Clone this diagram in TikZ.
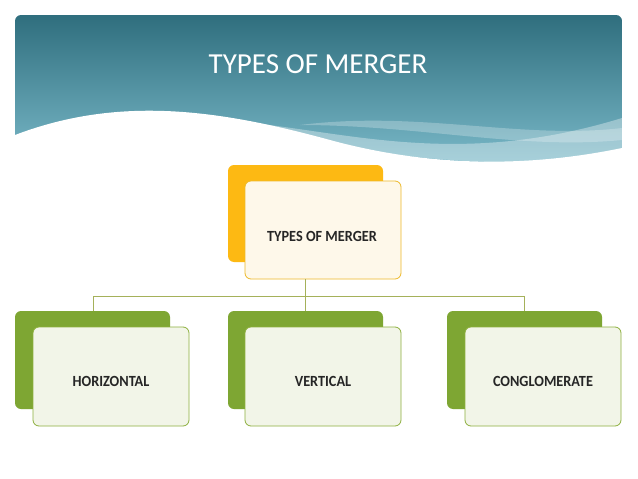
\documentclass[tikz,border=0pt]{standalone}
\usepackage{fontspec}
\setmainfont{Carlito}
\definecolor{tealdark}{HTML}{2F6E7E}
\definecolor{teallight}{HTML}{7DBCCB}
\definecolor{orng}{HTML}{FDB913}
\definecolor{orngline}{HTML}{EDB92A}
\definecolor{grn}{HTML}{7EA633}
\definecolor{grnline}{HTML}{8DB03E}
\definecolor{lnk}{HTML}{A5B15A}
\definecolor{cream}{HTML}{FEF8EA}
\definecolor{pale}{HTML}{F2F5E8}
\tikzset{
  back/.style={rounded corners=6pt},
  front/.style={draw, line width=0.8pt, rounded corners=6pt},
  lbl/.style={font=\bfseries\fontsize{15.5}{18}\selectfont, text=black!85, xscale=0.92},
  link/.style={draw=lnk, line width=0.7pt}
}
\begin{document}
\begin{tikzpicture}[x=1pt,y=-1pt]
\useasboundingbox (0,0) rectangle (638,479);
\fill[white] (0,0) rectangle (638,479);
% header
\shade[top color=tealdark, bottom color=teallight, rounded corners=6pt] (15,15) rectangle (622,170);
\fill[white] (15,135) .. controls (120,95) and (220,110) .. (330,140) .. controls (440,170) and (540,165) .. (622,148) -- (622,200) -- (15,200) -- cycle;
\fill[white, opacity=0.35] (160,120) .. controls (300,110) and (420,180) .. (622,118) -- (622,150) .. controls (520,175) and (400,160) .. (160,120) -- cycle;
\fill[white, opacity=0.25] (300,125) .. controls (420,110) and (520,140) .. (622,128) -- (622,140) .. controls (520,150) and (420,125) .. (300,125) -- cycle;
\fill[white] (0,170) rectangle (638,200);
\node[text=white, font=\fontsize{29}{32}\selectfont] (title) at (318,64) {TYPES OF MERGER};
% top box
\fill[orng, back] (228,165) rectangle (383,262);
\node[front, draw=orngline, fill=cream, minimum width=156pt, minimum height=98pt] (top) at (323,230) {};
\node[lbl] (toplbl) at (322,236) {TYPES OF MERGER};
% children
\coordinate (hub) at (305,296);
\foreach \bx/\fx/\name/\txt/\lx in {15/33/h/HORIZONTAL/111, 228/245/v/VERTICAL/323, 447/465/c/CONGLOMERATE/543}{
  \fill[grn, back] (\bx,311) rectangle ({\bx+155},409);
  \node[front, draw=grnline, fill=pale, minimum width=156pt, minimum height=99pt] (\name) at ({\fx+78},376.5) {};
  \node[lbl] (\name l) at (\lx,381) {\txt};
}
\coordinate (hl) at (93,296);
\coordinate (hr) at (524,296);
\coordinate (vm) at (305,296);
\draw[link] (top.south -| hub) -- (hub);
\draw[link] (hl) -- (hr);
\draw[link] (hl) -- (93,311);
\draw[link] (vm) -- (305,311);
\draw[link] (hr) -- (524,311);
\end{tikzpicture}
\end{document}
